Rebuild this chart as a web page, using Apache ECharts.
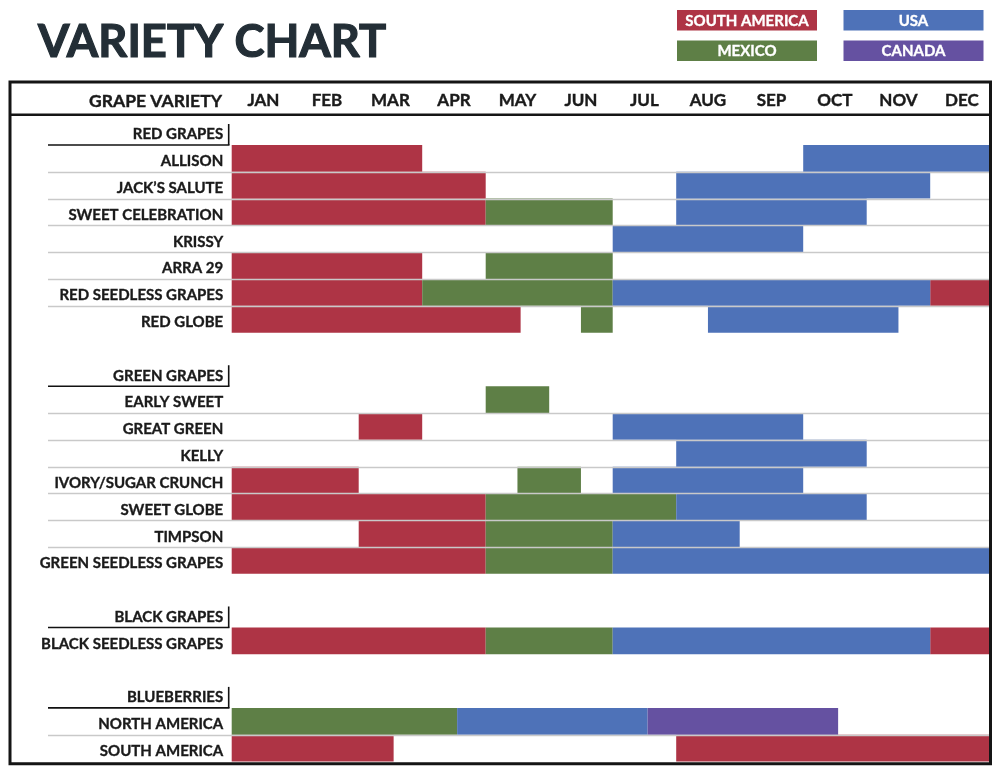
<!DOCTYPE html>
<html>
<head>
<meta charset="utf-8">
<script src="https://cdn.jsdelivr.net/npm/echarts@6/dist/echarts.min.js"></script>
<style>
html,body{margin:0;padding:0;background:#fff;}
#chart{width:1000px;height:776px;}
</style>
</head>
<body>
<div id="chart"></div>
<script>
const months = ['JAN','FEB','MAR','APR','MAY','JUN','JUL','AUG','SEP','OCT','NOV','DEC'];
const rows = ['RED GRAPES','ALLISON','JACK\u2019S SALUTE','SWEET CELEBRATION','KRISSY','ARRA 29','RED SEEDLESS GRAPES','RED GLOBE',' ',
  'GREEN GRAPES','EARLY SWEET','GREAT GREEN','KELLY','IVORY/SUGAR CRUNCH','SWEET GLOBE','TIMPSON','GREEN SEEDLESS GRAPES','  ',
  'BLACK GRAPES','BLACK SEEDLESS GRAPES','   ','BLUEBERRIES','NORTH AMERICA','SOUTH AMERICA'];
const groupHeaders = ['RED GRAPES','GREEN GRAPES','BLACK GRAPES','BLUEBERRIES'];
const regions = ['SOUTH AMERICA','MEXICO','USA','CANADA'];

// [variety, start month, end month] (0 = start of JAN, 12 = end of DEC)
const southAmerica = [
  ['ALLISON',0,3],['JACK\u2019S SALUTE',0,4],['SWEET CELEBRATION',0,4],['ARRA 29',0,3],
  ['RED SEEDLESS GRAPES',0,3],['RED SEEDLESS GRAPES',11,12],['RED GLOBE',0,4.55],
  ['GREAT GREEN',2,3],['IVORY/SUGAR CRUNCH',0,2],['SWEET GLOBE',0,4],['TIMPSON',2,4],
  ['GREEN SEEDLESS GRAPES',0,4],['BLACK SEEDLESS GRAPES',0,4],['BLACK SEEDLESS GRAPES',11,12],
  ['SOUTH AMERICA',0,2.55],['SOUTH AMERICA',7,12]
];
const mexico = [
  ['SWEET CELEBRATION',4,6],['ARRA 29',4,6],['RED SEEDLESS GRAPES',3,6],['RED GLOBE',5.5,6],
  ['EARLY SWEET',4,5],['IVORY/SUGAR CRUNCH',4.5,5.5],['SWEET GLOBE',4,7],['TIMPSON',4,6],
  ['GREEN SEEDLESS GRAPES',4,6],['BLACK SEEDLESS GRAPES',4,6],['NORTH AMERICA',0,3.55]
];
const usa = [
  ['ALLISON',9,12],['JACK\u2019S SALUTE',7,11],['SWEET CELEBRATION',7,10],['KRISSY',6,9],
  ['RED SEEDLESS GRAPES',6,11],['RED GLOBE',7.5,10.5],['GREAT GREEN',6,9],['KELLY',7,10],
  ['IVORY/SUGAR CRUNCH',6,9],['SWEET GLOBE',7,10],['TIMPSON',6,8],['GREEN SEEDLESS GRAPES',6,12],
  ['BLACK SEEDLESS GRAPES',6,11],['NORTH AMERICA',3.55,6.55]
];
const canada = [
  ['NORTH AMERICA',6.55,9.55]
];

const colors = {'SOUTH AMERICA':'#AE3445','MEXICO':'#5E7F46','USA':'#4E72B8','CANADA':'#6551A1'};
const seriesData = {'SOUTH AMERICA':southAmerica,'MEXICO':mexico,'USA':usa,'CANADA':canada};
const FONT = 'Lato';
const INK = '#1a1a1a';

const chart = echarts.init(document.getElementById('chart'), null, {renderer:'canvas'});

function isVariety(name){ return name.trim() !== '' && groupHeaders.indexOf(name) < 0; }
const lineRows = [];
for (let i = 0; i < rows.length - 1; i++) {
  if (isVariety(rows[i]) && isVariety(rows[i+1])) lineRows.push([0, rows[i]]);
}

function barRender(color){
  return function(params, api){
    const s = api.coord([api.value(1), api.value(0)]);
    const e = api.coord([api.value(2), api.value(0)]);
    const h = api.size([0,1])[1];
    return {type:'rect', shape:{x:s[0], y:s[1]-h/2, width:e[0]-s[0], height:h}, style:{fill:color}};
  };
}

const series = regions.map(function(r){
  return {
    type:'custom', name:r, xAxisIndex:0, yAxisIndex:0,
    renderItem: barRender(colors[r]),
    encode:{x:[1,2], y:0},
    data: seriesData[r], z:2
  };
});

series.push({
  type:'custom', name:'separators', xAxisIndex:0, yAxisIndex:0, silent:true, z:5,
  encode:{x:0, y:1}, data: lineRows,
  renderItem: function(params, api){
    const c = api.coord([0, api.value(1)]);
    const h = api.size([0,1])[1];
    const y = Math.round(c[1]+h/2) + 0.5;
    return {type:'line', shape:{x1:48, y1:y, x2:990, y2:y}, style:{stroke:'#c9c9c9', lineWidth:1.3}};
  }
});

series.push({
  type:'custom', name:'headers', xAxisIndex:0, yAxisIndex:0, silent:true, z:5,
  encode:{x:0, y:1}, data: groupHeaders.map(function(g){return [0,g];}),
  renderItem: function(params, api){
    const c = api.coord([0, api.value(1)]);
    const h = api.size([0,1])[1];
    const yb = c[1]+h/2;
    return {type:'group', children:[
      {type:'line', shape:{x1:48, y1:yb, x2:229.5, y2:yb}, style:{stroke:'#111', lineWidth:1.6}},
      {type:'line', shape:{x1:228.7, y1:yb-21, x2:228.7, y2:yb}, style:{stroke:'#111', lineWidth:1.6}}
    ]};
  }
});

// row labels (category names of the y axis)
series.push({
  type:'custom', name:'rowLabels', xAxisIndex:0, yAxisIndex:0, silent:true, z:6,
  encode:{x:0, y:1}, data: rows.map(function(r){return [0,r];}),
  renderItem: function(params, api){
    const c = api.coord([0, api.value(1)]);
    return {type:'text', style:{text:rows[params.dataIndex].trim(), x:c[0]-8.5, y:c[1]+3,
      textAlign:'right', textVerticalAlign:'middle', font:'bold 15px '+FONT, fill:INK,
      stroke:INK, lineWidth:0.35}};
  }
});

const legendGraphics = [];
regions.forEach(function(r, i){
  const col = Math.floor(i/2), row = i%2;
  const x = 677 + col*166.5, y = 10 + row*30.5;
  legendGraphics.push({type:'rect', left:x, top:y, z:100, shape:{width:140, height:20.5}, style:{fill:colors[r]}});
  legendGraphics.push({type:'text', x:x+70, y:y+11, z:101, style:{text:r, fill:'#fff', font:'bold 15px '+FONT, textAlign:'center', textVerticalAlign:'middle', stroke:'#fff', lineWidth:0.35}});
});

const option = {
  animation:false,
  backgroundColor:'#fff',
  title:{text:'VARIETY CHART', left:33, top:15, textStyle:{fontFamily:FONT, fontWeight:'bold', fontSize:45.3, color:'#232e36', textBorderColor:'#232e36', textBorderWidth:1.2}},
  grid:{left:231.7, right:6.3, top:118.2, bottom:14.5, containLabel:false},
  xAxis:[
    {type:'value', min:0, max:12, interval:1, show:false},
    {type:'category', position:'top', data:months, boundaryGap:true,
     axisLine:{show:false}, axisTick:{show:false}, splitLine:{show:false},
     axisLabel:{margin:9, color:INK, fontFamily:FONT, fontWeight:'bold', fontSize:17, interval:0, textBorderColor:INK, textBorderWidth:0.4}}
  ],
  yAxis:{type:'category', data:rows, inverse:true,
    axisLine:{show:false}, axisTick:{show:false}, splitLine:{show:false}, axisLabel:{show:false}},
  series: series.concat([{type:'custom', xAxisIndex:1, yAxisIndex:0, data:[], renderItem:function(){return null;}}]),
  graphic: legendGraphics.concat([
    {type:'text', x:222, y:101, z:101, style:{text:'GRAPE VARIETY', fill:INK, font:'bold 17.5px '+FONT, textAlign:'right', textVerticalAlign:'middle', stroke:INK, lineWidth:0.4}},
    {type:'rect', left:991.8, top:70, z:99, shape:{width:10, height:700}, style:{fill:'#fff'}},
    {type:'rect', z:100, shape:{x:10, y:82, width:980.5, height:681.7}, style:{fill:'none', stroke:'#151515', lineWidth:3}},
    {type:'line', z:100, shape:{x1:10, y1:114.7, x2:990.5, y2:114.7}, style:{stroke:'#151515', lineWidth:2.5}}
  ])
};
chart.setOption(option);
</script>
</body>
</html>
